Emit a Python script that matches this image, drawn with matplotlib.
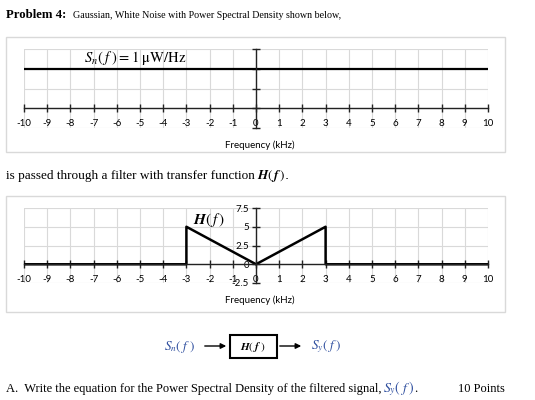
import matplotlib.pyplot as plt
from matplotlib.patches import Rectangle, FancyArrowPatch

W, H_PX = 535, 400

# data
freq_n = [-10, 10]
Sn = [1, 1]
freq_h = [-10, -3, -3, 0, 3, 3, 10]
H = [0, 0, 5, 0, 5, 0, 0]
xticks = list(range(-10, 11))
yticks_n = [-0.5, 0, 0.5, 1, 1.5]
yticks_h = [-2.5, 0, 2.5, 5, 7.5]
ylabels_h = ['-2.5', '0', '2.5', '5', '7.5']

blue = '#2f4f9f'
grid_c = '#d9d9d9'
serif = 'Liberation Serif'
sans = 'Lato'
plt.rcParams['mathtext.fontset'] = 'stix'
plt.rcParams['axes.unicode_minus'] = False


def fx(x):
    return x / W


def fy(y):
    return 1 - y / H_PX


def box(ax_rect):
    # ax_rect in pixels: left, top, right, bottom
    l, t, r, b = ax_rect
    return [fx(l), fy(b), fx(r) - fx(l), fy(t) - fy(b)]


def frame(l, t, r, b):
    fig.add_artist(Rectangle((fx(l), fy(b)), fx(r) - fx(l), fy(t) - fy(b),
                             transform=fig.transFigure, fill=False,
                             ec='#d9d9d9', lw=1.0))


def arrow(x0, x1, y):
    fig.add_artist(FancyArrowPatch((fx(x0), fy(y)), (fx(x1), fy(y)),
                                   transform=fig.transFigure, arrowstyle='-|>',
                                   mutation_scale=8, lw=1.0, color='black'))


def style_axes(ax, ylim, yticks):
    ax.set_xlim(-10, 10)
    ax.set_ylim(*ylim)
    ax.set_xticks(xticks)
    ax.set_yticks(yticks)
    ax.grid(True, color=grid_c, lw=0.8)
    ax.set_axisbelow(True)
    for s in ['top', 'right']:
        ax.spines[s].set_visible(False)
    ax.spines['left'].set_position(('data', 0))
    ax.spines['bottom'].set_position(('data', 0))
    for s in ['left', 'bottom']:
        ax.spines[s].set_color('#222222')
        ax.spines[s].set_linewidth(1.0)
    ax.tick_params(direction='inout', length=6, width=1.0, color='#222222')
    ax.tick_params(axis='x', pad=5, labelsize=7)
    ax.tick_params(axis='y', pad=2, labelsize=7)
    for lab in ax.get_xticklabels() + ax.get_yticklabels():
        lab.set_fontfamily(sans)


fig = plt.figure(figsize=(5.35, 4), dpi=100)

# text lines
fig.text(fx(6), fy(15), 'Problem 4:', fontfamily=serif, fontweight='bold',
         fontsize=9.2, va='center')
fig.text(fx(73), fy(15), 'Gaussian, White Noise with Power Spectral Density shown below,',
         fontfamily=serif, fontsize=7.2, va='center')
fig.text(fx(6), fy(176), 'is passed through a filter with transfer function',
         fontfamily=serif, fontsize=9.5, va='center')
fig.text(fx(257), fy(176), r'$\boldsymbol{H}(\,\boldsymbol{f}\,)$.', fontsize=9.5, va='center')

# top chart: input PSD
frame(6, 37, 505, 152)
ax1 = fig.add_axes(box((24, 49, 488, 128)))
style_axes(ax1, (-0.5, 1.5), yticks_n)
ax1.set_yticklabels([])
ax1.plot(freq_n, Sn, color='black', lw=1.6)
ax1.text(-7.4, 1.27, r'$S_n(\;f\;) = 1\ \mathrm{\mu W/Hz}$', fontsize=10.5, va='center')
fig.text(fx(260), fy(145), 'Frequency (kHz)', fontfamily=sans, fontsize=7,
         ha='center', va='center')

# bottom chart: filter
frame(6, 196, 505, 312)
ax2 = fig.add_axes(box((24, 208, 488, 283)))
style_axes(ax2, (-2.5, 7.5), yticks_h)
ax2.set_yticklabels(ylabels_h)
ax2.plot(freq_h, H, color='black', lw=1.8)
ax2.text(-2.7, 5.9, r'$\boldsymbol{H}(\,f\,)$', fontsize=11, va='center')
fig.text(fx(260), fy(300), 'Frequency (kHz)', fontfamily=sans, fontsize=7,
         ha='center', va='center')

# block diagram
fig.text(fx(180), fy(347), r'$S_n(\;f\;)$', color=blue, fontsize=9.5, ha='center', va='center')
arrow(202, 229, 346)
fig.add_artist(Rectangle((fx(230), fy(358)), fx(277) - fx(230), fy(335) - fy(358),
                         transform=fig.transFigure, fill=False, ec='black', lw=1.5))
fig.text(fx(253), fy(347), r'$\boldsymbol{H}(\;\boldsymbol{f}\;)$', fontsize=8,
         ha='center', va='center')
arrow(277, 304, 346)
fig.text(fx(326), fy(347), r'$S_y(\;f\;)$', color=blue, fontsize=9.5, ha='center', va='center')

# question line
fig.text(fx(6), fy(389), 'A.  Write the equation for the Power Spectral Density of the filtered signal,',
         fontfamily=serif, fontsize=9, va='center')
fig.text(fx(383), fy(389), r'$S_y(\;f\;)$', color=blue, fontsize=10, va='center')
fig.text(fx(414), fy(389), '.', fontfamily=serif, fontsize=9, va='center')
fig.text(fx(458), fy(389), '10 Points', fontfamily=serif, fontsize=9, va='center')

fig.savefig('out.png', dpi=100)
